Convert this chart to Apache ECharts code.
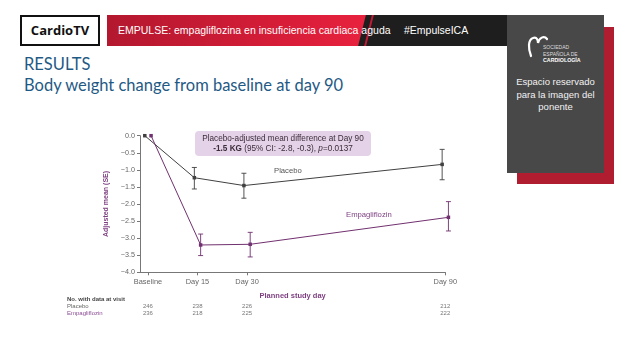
<!DOCTYPE html>
<html>
<head>
<meta charset="utf-8">
<script src="https://cdn.jsdelivr.net/npm/echarts@6/dist/echarts.min.js"></script>
<style>
  html, body { margin: 0; padding: 0; background: #fff; }
  body { width: 638px; height: 359px; position: relative; overflow: hidden; font-family: "Liberation Sans", Arial, sans-serif; }
  .abs { position: absolute; }
  #logoBox { left: 20px; top: 15px; width: 76px; height: 27px; border: 2px solid #111; background: #fff;
    font: bold 13px "Open Sans", sans-serif; color: #111; text-align: center; line-height: 27px; }
  #banner { left: 107px; top: 15px; width: 400px; height: 31px;
    background: linear-gradient(90deg, #b3182f 0%, #d81d38 45%, #e8223f 65%, #e8223f 66%, #1e1e1e 66%); }
  #stripe { left: 362px; top: 15px; width: 14px; height: 31px; background: #1e1e1e; transform: skewX(-14deg); }
  #stripe2 { left: 368px; top: 15px; width: 2px; height: 31px; background: #c01a36; transform: skewX(-14deg); }
  #bannerText { left: 118px; top: 15px; line-height: 31px; color: #fff; font-size: 10.5px; }
  #tag { left: 404px; top: 15px; line-height: 31px; color: #fff; font-size: 10.5px; }
  #shadow { left: 517px; top: 27px; width: 97px; height: 157px; background: #b01c30; }
  #gray { left: 507px; top: 15px; width: 97px; height: 158px; background: #484848; }
  #sec { left: 543px; top: 44px; color: #ddd; font-size: 5px; line-height: 6.5px; }
  #sec b { color: #fff; font-size: 5.3px; }
  #reserved { left: 507px; top: 76px; width: 97px; text-align: center; color: #f2f2f2; font-size: 9.5px; line-height: 12.5px; }
  #title { left: 24px; top: 54px; color: #1f5a85; font: 16.5px Lato, "Open Sans", sans-serif; line-height: 20.5px; }
  #main { left: 60px; top: 120px; width: 400px; height: 205px; }
</style>
</head>
<body>
<div class="abs" id="logoBox">CardioTV</div>
<div class="abs" id="banner"></div>
<div class="abs" id="stripe"></div>
<div class="abs" id="stripe2"></div>
<div class="abs" id="bannerText">EMPULSE: empagliflozina en insuficiencia cardiaca aguda</div>
<div class="abs" id="tag">#EmpulseICA</div>
<div class="abs" id="shadow"></div>
<div class="abs" id="gray"></div>
<svg class="abs" style="left:527px;top:34px" width="22" height="24" viewBox="0 0 22 24">
  <path d="M4 22 C1 14 1 6 6 4 C10 2 11 7 11 9 C12 4 17 1 20 5" fill="none" stroke="#fff" stroke-width="2.2" stroke-linecap="round"/>
</svg>
<div class="abs" id="sec">SOCIEDAD<br>ESPAÑOLA DE<br><b>CARDIOLOGÍA</b></div>
<div class="abs" id="reserved">Espacio reservado<br>para la imagen del<br>ponente</div>
<div class="abs" id="title">RESULTS<br>Body weight change from baseline at day 90</div>
<div class="abs" id="main"></div>

<script>
// planned study days and labels
var days = [0, 15, 30, 90];
var dayLabels = ['Baseline', 'Day 15', 'Day 30', 'Day 90'];

// adjusted mean (SE)
var placeboMean = [0, -1.23, -1.46, -0.84];
var placeboLow  = [null, -1.56, -1.83, -1.29];
var placeboHigh = [null, -0.93, -1.10, -0.40];
var empaMean = [0, -3.20, -3.18, -2.39];
var empaLow  = [null, -3.51, -3.55, -2.79];
var empaHigh = [null, -2.88, -2.83, -1.93];

// no. with data at visit
var placeboN = [246, 238, 226, 212];
var empaN = [236, 218, 225, 222];

var grey = '#404040';
var purple = '#71306f';
var dodge = 0.95; // days, keeps the two groups apart

function pts(mean, shift) {
  return days.map(function (d, i) { return [d + shift, mean[i]]; });
}
function bars(low, high, shift) {
  var out = [];
  days.forEach(function (d, i) {
    if (low[i] != null) out.push([d + shift, low[i], high[i]]);
  });
  return out;
}
function errorSeries(data, color) {
  return {
    type: 'custom',
    data: data,
    clip: false,
    silent: true,
    z: 3,
    renderItem: function (params, api) {
      var x = api.value(0);
      var lo = api.coord([x, api.value(1)]);
      var hi = api.coord([x, api.value(2)]);
      var w = 2.5;
      var st = { stroke: color, lineWidth: 0.9 };
      return {
        type: 'group',
        children: [
          { type: 'line', shape: { x1: lo[0], y1: lo[1], x2: hi[0], y2: hi[1] }, style: st },
          { type: 'line', shape: { x1: lo[0] - w, y1: lo[1], x2: lo[0] + w, y2: lo[1] }, style: st },
          { type: 'line', shape: { x1: hi[0] - w, y1: hi[1], x2: hi[0] + w, y2: hi[1] }, style: st }
        ]
      };
    }
  };
}

var chart = echarts.init(document.getElementById('main'));

chart.setOption({
  animation: false,
  grid: { left: 80, right: 7, top: 15.7, height: 136.6 },
  xAxis: {
    type: 'value',
    min: -2.4,
    max: 90,
    name: 'Planned study day',
    nameLocation: 'middle',
    nameGap: 20,
    nameTextStyle: { fontFamily: 'Liberation Sans', fontSize: 7.5, fontWeight: 'bold', color: '#7d3f80' },
    splitLine: { show: false },
    axisLine: { onZero: false, lineStyle: { color: '#777', width: 1 } },
    axisTick: { customValues: days, length: 3, lineStyle: { color: '#777' } },
    axisLabel: {
      customValues: days,
      margin: 6,
      fontFamily: 'Liberation Sans', fontSize: 7.4, color: '#666',
      formatter: function (v) { return dayLabels[days.indexOf(v)]; }
    }
  },
  yAxis: {
    type: 'value',
    min: -4,
    max: 0,
    interval: 0.5,
    name: 'Adjusted mean (SE)',
    nameLocation: 'middle',
    nameRotate: 90,
    nameGap: 23,
    nameTextStyle: { fontFamily: 'Liberation Sans', fontSize: 7, fontWeight: 'bold', color: '#7d3f80' },
    splitLine: { show: false },
    axisLine: { show: true, onZero: false, lineStyle: { color: '#777', width: 1 } },
    axisTick: { show: true, length: 3, lineStyle: { color: '#777' } },
    axisLabel: {
      margin: 5,
      fontFamily: 'Liberation Sans', fontSize: 7.2, color: '#666',
      formatter: function (v) { return (v === 0 ? '0.0' : v.toFixed(1).replace('-', '\u2212')); }
    }
  },
  series: [
    {
      name: 'Placebo', type: 'line', data: pts(placeboMean, -dodge), clip: false,
      symbol: 'rect', symbolSize: 3.5, itemStyle: { color: grey },
      lineStyle: { color: grey, width: 1 }, z: 4
    },
    {
      name: 'Empagliflozin', type: 'line', data: pts(empaMean, dodge), clip: false,
      symbol: 'rect', symbolSize: 3.5, itemStyle: { color: purple },
      lineStyle: { color: purple, width: 1 }, z: 4
    },
    errorSeries(bars(placeboLow, placeboHigh, -dodge), grey),
    errorSeries(bars(empaLow, empaHigh, dodge), purple)
  ]
});

// annotation, series labels and the numbers-at-risk table
var g = [
  { type: 'rect', left: 135, top: 11, shape: { width: 176, height: 25, r: 4 }, style: { fill: '#e4d2e8' } },
  { type: 'text', x: 223, y: 18.5, style: {
      text: 'Placebo-adjusted mean difference at Day 90', align: 'center', verticalAlign: 'middle',
      fontFamily: 'Liberation Sans', fontSize: 8.2, fill: '#3a2d3a' } },
  { type: 'text', x: 223, y: 28.5, style: {
      text: '{b|-1.5 KG} (95% CI: -2.8, -0.3), {i|p}=0.0137', align: 'center', verticalAlign: 'middle',
      fontFamily: 'Liberation Sans', fontSize: 8.2, fill: '#3a2d3a',
      rich: { b: { fontWeight: 'bold', fontSize: 8.2, fontFamily: 'Liberation Sans', fill: '#3a2d3a' },
              i: { fontStyle: 'italic', fontSize: 8.2, fontFamily: 'Liberation Sans', fill: '#3a2d3a' } } } },
  { type: 'text', x: 214, y: 51, style: { text: 'Placebo', verticalAlign: 'middle', fontFamily: 'Liberation Sans', fontSize: 7.7, fill: '#555' } },
  { type: 'text', x: 286, y: 95, style: { text: 'Empagliflozin', verticalAlign: 'middle', fontFamily: 'Liberation Sans', fontSize: 7.7, fill: '#7d3f80' } },
  { type: 'text', x: 7, y: 179, style: { text: 'No. with data at visit', verticalAlign: 'middle', fontFamily: 'Liberation Sans', fontSize: 6, fontWeight: 'bold', fill: '#444' } },
  { type: 'text', x: 7, y: 186, style: { text: 'Placebo', verticalAlign: 'middle', fontFamily: 'Liberation Sans', fontSize: 6, fill: '#666' } },
  { type: 'text', x: 7, y: 193, style: { text: 'Empagliflozin', verticalAlign: 'middle', fontFamily: 'Liberation Sans', fontSize: 6, fill: '#8a4a94' } }
];
days.forEach(function (d, i) {
  var px = chart.convertToPixel({ gridIndex: 0 }, [d, 0])[0];
  g.push({ type: 'text', x: px, y: 186, style: { text: String(placeboN[i]), align: 'center', verticalAlign: 'middle', fontFamily: 'Liberation Sans', fontSize: 6, fill: '#777' } });
  g.push({ type: 'text', x: px, y: 193, style: { text: String(empaN[i]), align: 'center', verticalAlign: 'middle', fontFamily: 'Liberation Sans', fontSize: 6, fill: '#777' } });
});
chart.setOption({ graphic: g });
</script>
</body>
</html>
